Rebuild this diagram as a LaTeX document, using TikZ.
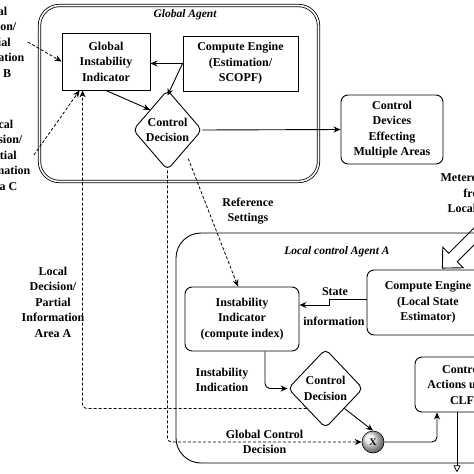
\documentclass[tikz,border=0pt]{standalone}
\usepackage{fontspec}
\setmainfont{Liberation Serif}
\usetikzlibrary{arrows.meta,shapes.geometric,calc}

\begin{document}
\begin{tikzpicture}[x=1pt,y=-1pt,>={Stealth[length=7pt,width=6pt]},
  every node/.style={font=\fontsize{12}{15.5}\selectfont\bfseries, align=center},
  title/.style={font=\fontsize{11.5}{14}\selectfont\bfseries\itshape},
  box/.style={draw, line width=0.9pt, inner sep=1pt},
  rbox/.style={box, rounded corners=7pt},
  decide/.style={draw, line width=0.9pt, diamond, rounded corners=5pt, inner sep=0pt},
  link/.style={->, line width=0.9pt},
  msg/.style={->, line width=0.8pt, dash pattern=on 3pt off 2pt}]
\useasboundingbox (0,0) rectangle (474,474);
\clip (0,0) rectangle (474,474);

% global agent
\node[draw, double, double distance=1.6pt, line width=0.8pt, rounded corners=20pt,
  minimum width=279, minimum height=176] (gagent) at (179,93.5) {};
\node[title] at (185,15) {Global Agent};
\node[box, minimum width=88, minimum height=57] (gii) at (106,61.5) {Global\\Instability\\Indicator};
\node[box, minimum width=115, minimum height=55] (ceg) at (240.5,63.5) {Compute Engine\\(Estimation/\\SCOPF)};
\node[decide, minimum width=69, minimum height=80] (gdec) at (167.5,130) {Control\\Decision};
\node[rbox, minimum width=102, minimum height=69] (cdev) at (392,129.5) {Control\\Devices\\Effecting\\Multiple Areas};

% information from other areas
\node (infoB) at (-7,42) {Local\\Decision/\\Partial\\Information\\Area B};
\node (infoC) at (-1,155) {Local\\Decision/\\Partial\\Information\\Area C};
\node (infoA) at (53,302) {Local\\Decision/\\Partial\\Information\\Area A};
\node (meter) at (476,193) {Metered Data\\from\\Local Area};

% local agent A
\node[draw, line width=0.9pt, rounded corners=25pt, minimum width=354, minimum height=230] (lagent) at (353,348) {};
\node[title] at (337,252) {Local control Agent A};
\node[rbox, minimum width=114, minimum height=64] (lii) at (242,319) {Instability\\Indicator\\(compute index)};
\node[rbox, minimum width=122, minimum height=65] (lce) at (428,302.5) {Compute Engine\\(Local State\\Estimator)};
\node[decide, minimum width=75, minimum height=79] (ldec) at (325.5,388.5) {Control\\Decision};
\node[rbox, minimum width=94, minimum height=55] (cact) at (462,384.5) {Control\\Actions using\\CLF};
\node[circle, draw, line width=0.6pt, ball color=gray!15, minimum size=22, inner sep=0pt,
  font=\fontsize{10}{12}\selectfont\bfseries] (mix) at (373,442) {X};

% labels
\node at (248,211) {Reference\\Settings};
\node at (335,292) {State};
\node at (334,321) {information};
\node at (222,380) {Instability\\Indication};

% global connectors
\draw[link] (ceg.west) -- (ceg.west -| gii.east);
\draw[link] (ceg.west) -- ([yshift=-6pt]gdec.north);
\draw[link] (gii.south) -- ($(gdec.west)!0.5!(gdec.north)$);
\draw[link] (gdec.east) -- (cdev.west);
\draw[msg] (infoB.east) -- (gii.west);
\draw[msg] (infoC.east) -- ([xshift=18pt]gii.south west);

% between the agents
\draw[msg, rounded corners=4pt] ($(ldec.west)!0.5!(ldec.south)$) -| ([xshift=21pt]gii.south west);
\draw[msg, rounded corners=4pt] (gdec.south) |- (mix.west)
  node[pos=0.75] {Global Control\\Decision};
\draw[msg, shorten <=9pt] ($(gdec.east)!0.5!(gdec.south)$) -- ([xshift=-4pt]lii.north);

% local connectors
\draw[link] ([yshift=3pt]lce.west) -- ++(-37,0) |- ([yshift=14pt]lii.east);
\draw[link, rounded corners=5pt] ([xshift=23pt]lii.south) |- (ldec.west);
\draw[link] ($(ldec.east)!0.5!(ldec.south)$) -- (mix.north);
\draw[link, rounded corners=5pt] (mix.east) -| ([xshift=-25pt]cact.south);
\draw[-{Triangle[open,length=7pt,width=7pt]}, line width=0.7pt] ([xshift=-5pt]cact.south) -- ++(0,60);

% metered data into the local estimator
\draw[line width=0.9pt] (488.8,213.3) -- (448.8,253.3) -- (442.75,247.25) -- (442.4,268.1)
  -- (463.25,267.75) -- (457.2,261.7) -- (497.2,221.7);
\end{tikzpicture}
\end{document}
